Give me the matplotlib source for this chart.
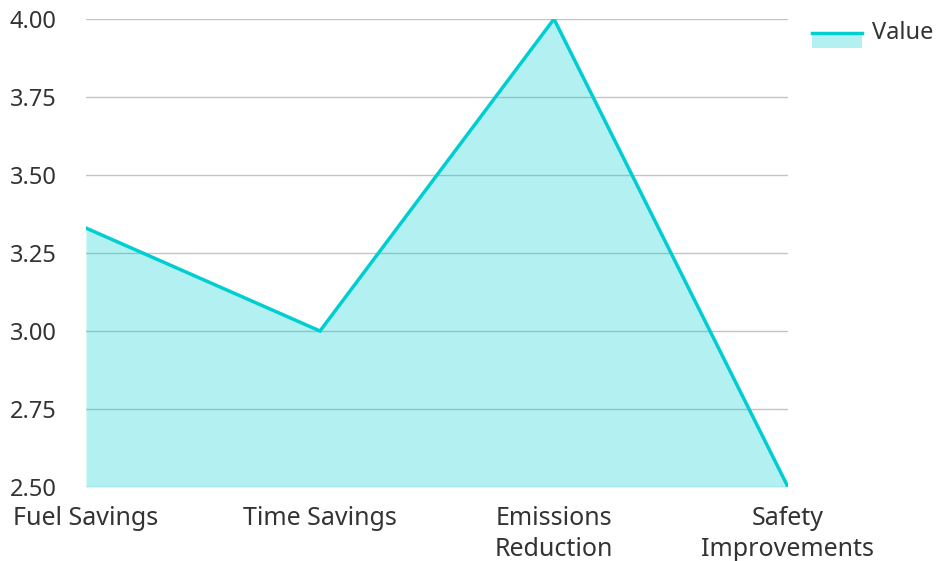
import os
import matplotlib.pyplot as plt
from matplotlib import font_manager as fm
from matplotlib.patches import Rectangle
from matplotlib.lines import Line2D
from matplotlib.legend_handler import HandlerBase

# benefit scores per category
categories = ["Fuel Savings", "Time Savings", "Emissions\nReduction", "Safety\nImprovements"]
values = [3.33, 3.0, 4.0, 2.5]
y_ticks = [2.50, 2.75, 3.00, 3.25, 3.50, 3.75, 4.00]

line_color = "#00CED1"
text_color = "#333333"


def regular_font(name, size):
    # pick the plain regular file of a family, not a condensed cut
    found = [f.fname for f in fm.fontManager.ttflist if f.name == name]
    bad = ("condensed", "semi", "extra", "bold", "italic", "light", "thin", "black", "medium")
    for path in found:
        base = os.path.basename(path).lower()
        if "regular" in base and not any(b in base for b in bad):
            return fm.FontProperties(fname=path, size=size)
    return fm.FontProperties(family=[name, "DejaVu Sans"], size=size)


x_font = regular_font("Noto Sans", 18)
y_font = regular_font("Noto Sans", 17)
leg_font = regular_font("Noto Sans", 17)


class AreaHandler(HandlerBase):
    # legend key: line on top of a filled band
    def create_artists(self, legend, orig_handle, xdescent, ydescent,
                       width, height, fontsize, trans):
        top = height * 0.38
        bottom = top - 11
        rect = Rectangle((-xdescent, bottom), width, top - bottom,
                         facecolor=line_color, alpha=0.3, edgecolor="none", transform=trans)
        ln = Line2D([-xdescent, -xdescent + width], [top, top], color=line_color,
                    linewidth=2.5, transform=trans)
        return [rect, ln]


fig = plt.figure(figsize=(9.36, 5.61), dpi=100)
ax = fig.add_axes([86 / 936, 1 - 487 / 561, (788 - 86) / 936, (487 - 19) / 561])

x = list(range(len(categories)))
ax.fill_between(x, values, y_ticks[0], color=line_color, alpha=0.3, linewidth=0, zorder=3)
ax.plot(x, values, color=line_color, linewidth=2.5, zorder=4, solid_joinstyle="miter")

ax.set_xlim(0, len(categories) - 1)
ax.set_ylim(y_ticks[0], y_ticks[-1])
ax.set_yticks(y_ticks)
ax.set_yticklabels([f"{v:.2f}" for v in y_ticks], fontproperties=y_font)
ax.set_xticks(x)
ax.set_xticklabels(categories, fontproperties=x_font, linespacing=1.3)
ax.tick_params(axis="both", length=0, colors=text_color)
ax.tick_params(axis="y", pad=21)
ax.tick_params(axis="x", pad=14)

ax.grid(axis="y", color="#c4c4c4", linewidth=1, zorder=1)
ax.set_axisbelow(True)
for s in ax.spines.values():
    s.set_visible(False)

fig.legend([object()], ["Value"], handler_map={object: AreaHandler()},
           loc="upper left", bbox_to_anchor=(805 / 936, 1 - 14 / 561),
           frameon=False, prop=leg_font, labelcolor=text_color,
           handlelength=2.1, handletextpad=0.42, borderaxespad=0, borderpad=0.3)

fig.savefig("out.png", dpi=100)
